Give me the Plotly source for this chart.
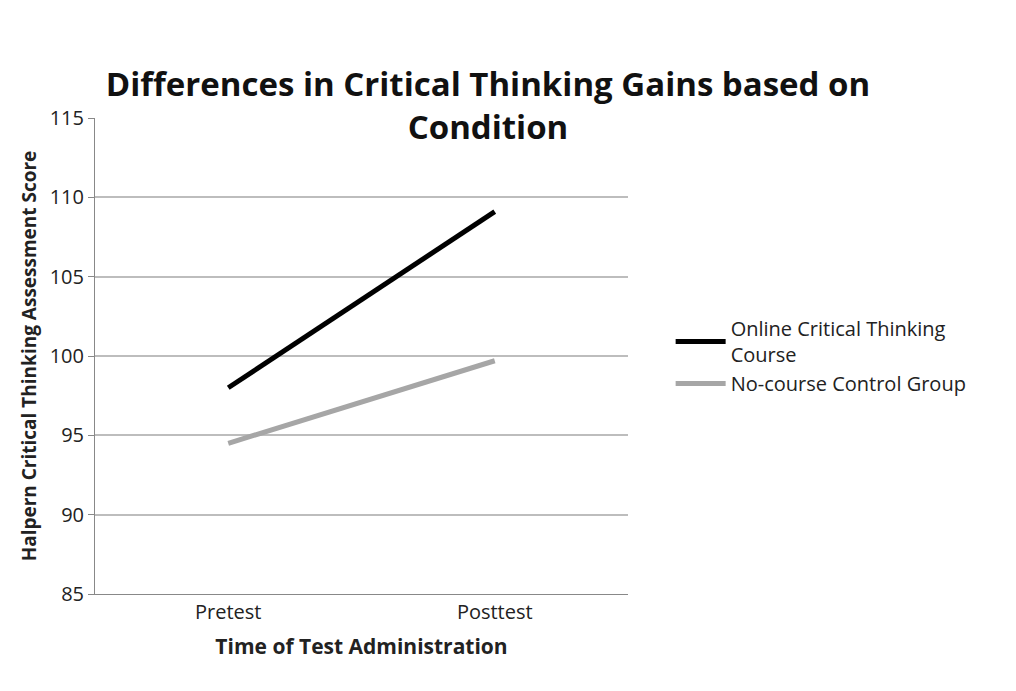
import plotly.graph_objects as go

times = ["Pretest", "Posttest"]
online_course = [98.0, 109.1]
control_group = [94.5, 99.7]

fig = go.Figure()
fig.add_trace(go.Scatter(x=times, y=online_course, mode="lines",
                         name="Online Critical Thinking<br>Course",
                         line=dict(color="black", width=5)))
fig.add_trace(go.Scatter(x=times, y=control_group, mode="lines",
                         name="No-course Control Group",
                         line=dict(color="#a6a6a6", width=5)))

fig.update_layout(
    width=1000, height=675,
    paper_bgcolor="white", plot_bgcolor="white",
    margin=dict(l=87, r=380, t=110, b=89),
    font=dict(family="Open Sans", size=19, color="#222"),
    title=dict(text="<b>Differences in Critical Thinking Gains based on<br>Condition</b>",
               x=0.48, xanchor="center", yref="paper", y=1, yanchor="bottom",
               pad=dict(b=22), font=dict(size=33, color="#111")),
    legend=dict(x=1.08, y=0.5, yanchor="middle", font=dict(size=20),
                tracegroupgap=22, itemwidth=50),
    xaxis=dict(type="category", range=[-0.5, 1.5], showgrid=False,
               showline=True, linecolor="#888", ticks="",
               tickfont=dict(size=20),
               title=dict(text="<b>Time of Test Administration</b>", font=dict(size=21))),
    yaxis=dict(range=[85, 115], dtick=5, showgrid=True, gridcolor="#bdbdbd",
               gridwidth=1.5, showline=True, linecolor="#888", ticks="outside",
               ticklen=6, tickcolor="#888", zeroline=False, tickfont=dict(size=20),
               title=dict(text="<b>Halpern Critical Thinking Assessment Score</b>",
                          font=dict(size=19), standoff=8)),
)

fig.write_html("out.html")
